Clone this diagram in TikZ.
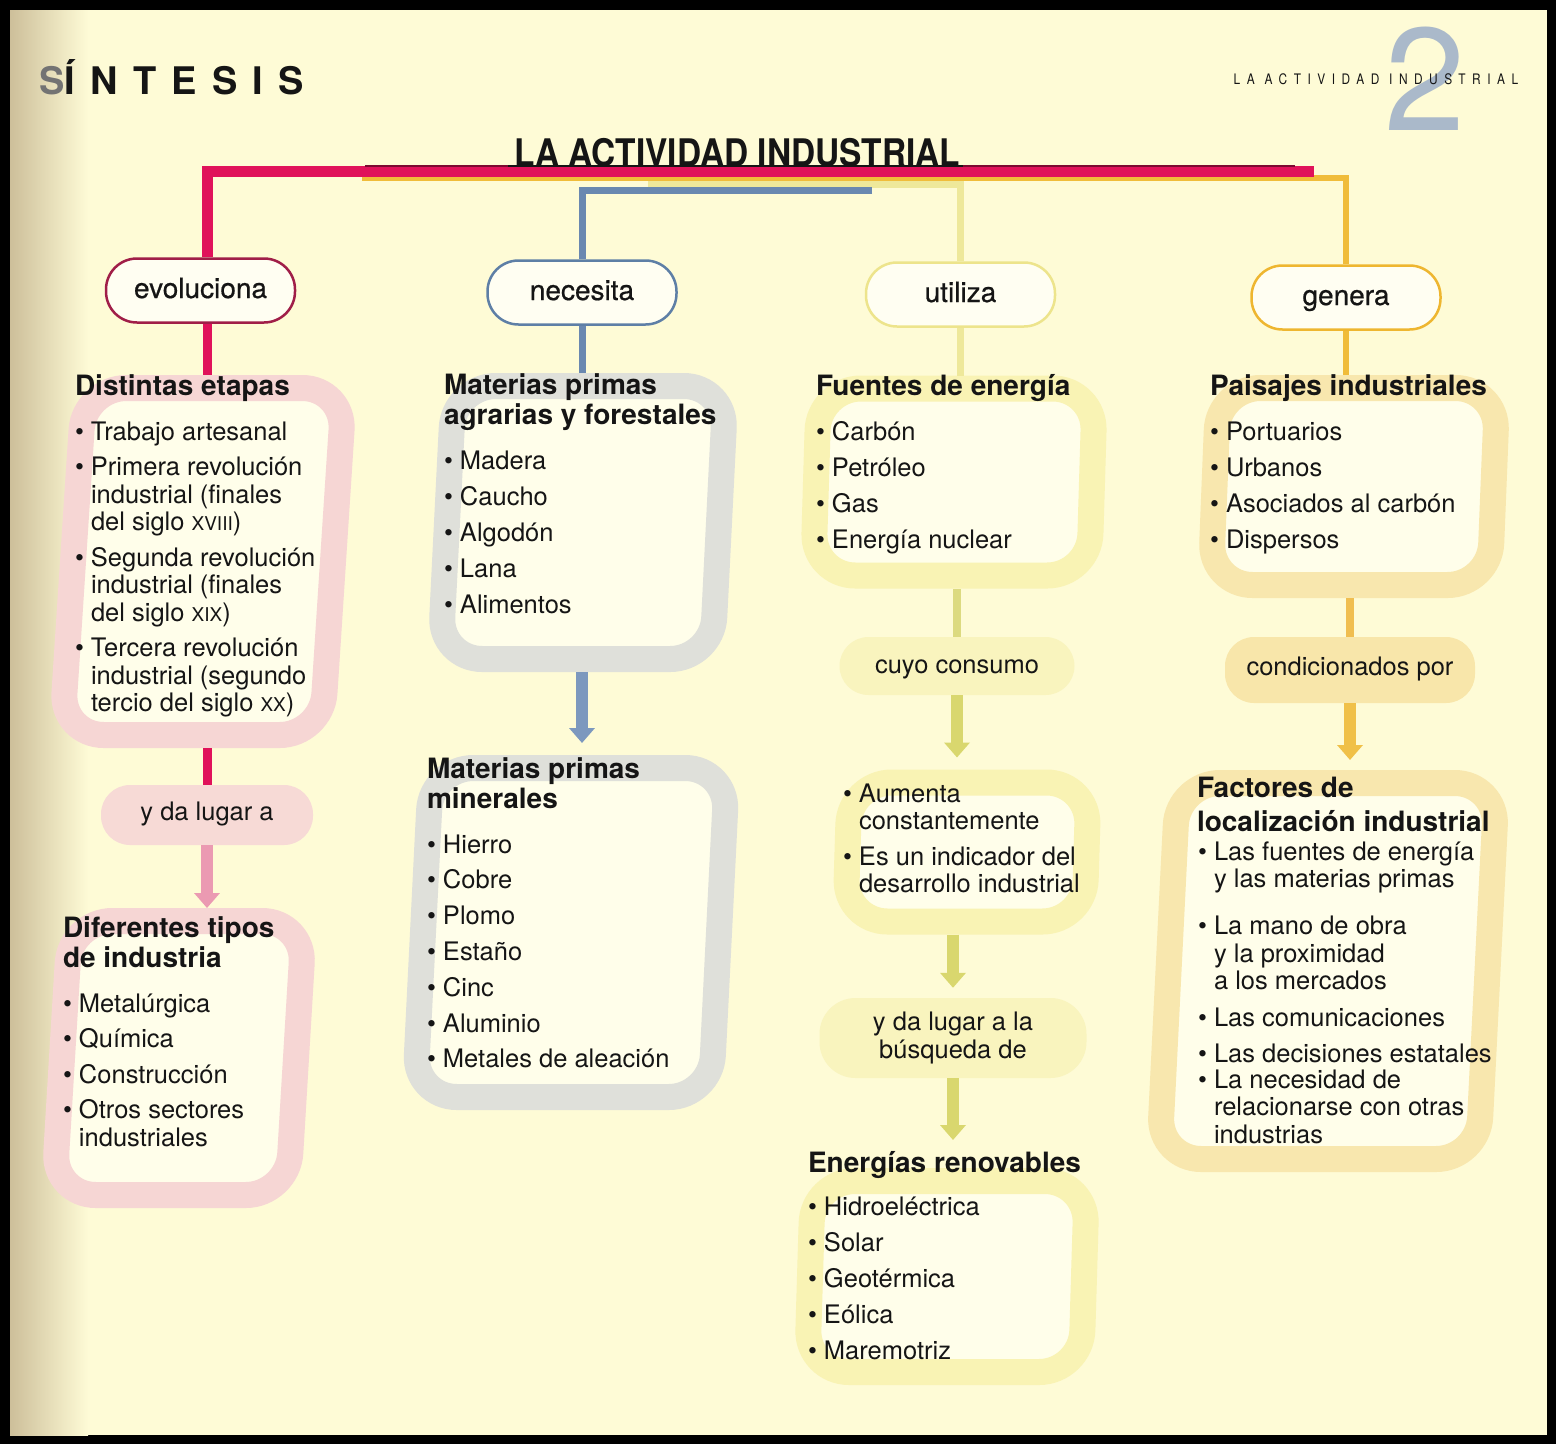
\documentclass[tikz,border=0pt]{standalone}
\usepackage{fontspec}
\setmainfont{TeX Gyre Heros}
\newfontfamily\condfont[FakeStretch=0.88]{TeX Gyre Heros}
\newfontfamily\smallheadfont[FakeStretch=0.82,LetterSpace=45]{TeX Gyre Heros}
\newfontfamily\sintfont[LetterSpace=40]{TeX Gyre Heros}
\newfontfamily\ovalfam[FakeBold=0.6]{TeX Gyre Heros}
\usetikzlibrary{arrows.meta,calc}

\definecolor{bg}{HTML}{FEFBD6}
\definecolor{binding}{HTML}{CDBF9A}
\definecolor{innerfill}{HTML}{FFFEEA}
\definecolor{ovalfill}{HTML}{FFFEF2}
\definecolor{ink}{HTML}{151515}
\definecolor{redline}{HTML}{E0125A}
\definecolor{crimson}{HTML}{A01E48}
\definecolor{blueline}{HTML}{6A88B0}
\definecolor{ovalblue}{HTML}{5E7FA6}
\definecolor{paleline}{HTML}{EEE89A}
\definecolor{ovalyellow}{HTML}{EDE48C}
\definecolor{goldline}{HTML}{F0BC3A}
\definecolor{ovalgold}{HTML}{EEB630}
\definecolor{ringpink}{HTML}{F6D6D4}
\definecolor{ringgray}{HTML}{DFE0DA}
\definecolor{ringyellow}{HTML}{F9F3B4}
\definecolor{ringgold}{HTML}{F8E7AE}
\definecolor{pillpink}{HTML}{F7DAD6}
\definecolor{pillyellow}{HTML}{F9F4BE}
\definecolor{pillgold}{HTML}{F8E6AA}
\definecolor{arrowpink}{HTML}{EB9AB2}
\definecolor{arrowblue}{HTML}{7C98BE}
\definecolor{arrowyellow}{HTML}{D9D76E}
\definecolor{arrowgold}{HTML}{F0C048}
\definecolor{lineyellow}{HTML}{DCDA80}
\definecolor{lineorange}{HTML}{F0BE50}
\definecolor{twocol}{HTML}{AAB9CA}

\newcommand\bodyfont{\fontsize{25.5}{27.5}\selectfont}
\newcommand\headfont{\fontsize{28}{30}\selectfont\bfseries}
\newcommand\ovalfont{\ovalfam\fontsize{28}{30}\selectfont}
\newcommand\bul{\makebox[16pt][l]{\textbullet}}
\newcommand\myind{\hspace*{16pt}}
\newcommand\romn[1]{{\fontsize{19}{20}\selectfont #1}}

\begin{document}
\begin{tikzpicture}[x=1pt,y=-1pt,
  txt/.style={anchor=base west, inner sep=0pt, outer sep=0pt, text=ink, font=\bodyfont},
  hd/.style={anchor=base west, inner sep=0pt, outer sep=0pt, text=ink, font=\headfont},
  oval/.style={draw=#1, line width=2.5pt, fill=ovalfill, rounded corners=31pt, minimum width=189pt, minimum height=64pt, inner sep=0pt, text=ink, font=\ovalfont, text height=20pt, text depth=5pt},
  ring/.style={draw=#1, line width=26pt, fill=innerfill, rounded corners=42pt, inner sep=0pt, transform shape},
  pill/.style={fill=#1, rounded corners=29pt, inner sep=0pt, text=ink, font=\bodyfont, align=center},
  arr/.style={draw=#1, line width=12pt, -{Triangle[width=25pt,length=15pt]}},
]
\useasboundingbox (0,0) rectangle (1556,1444);
\fill[black] (0,0) rectangle (1556,1444);
\fill[bg] (10,10) rectangle (1547,1435);
\shade[left color=binding, right color=bg] (10,10) rectangle (88,1435);

% header
\node[anchor=base west, text=ink, font={\sintfont\bfseries\fontsize{38}{40}\selectfont}] (sint) at (36,94) {{\color{black!55}S}ÍNTESIS};
\node[anchor=base west, text=twocol, font={\fontsize{146}{150}\selectfont}] (two) at (1381,130) {2};
\node[anchor=base west, text=ink, font={\smallheadfont\fontsize{14.5}{16}\selectfont}] (hdr) at (1230,84) {LA ACTIVIDAD INDUSTRIAL};

% rings
\node[ring=ringpink, xslant=0.065, minimum width=260pt, minimum height=347pt] (b1) at (203,561.5) {};
\node[ring=ringgray, xslant=0.05, minimum width=272pt, minimum height=273pt] (b2) at (583,522.5) {};
\node[ring=ringgray, xslant=0.05, minimum width=296pt, minimum height=329pt] (b3) at (571,932.5) {};
\node[ring=ringyellow, xslant=0.03, minimum width=276pt, minimum height=187pt] (b4) at (954,482) {};
\node[ring=ringyellow, xslant=0.03, minimum width=239pt, minimum height=139pt] (b5) at (967,852) {};
\node[ring=ringyellow, xslant=0.03, minimum width=274pt, minimum height=191pt] (b6) at (947,1276.5) {};
\node[ring=ringgold, xslant=0.04, minimum width=279pt, minimum height=197pt] (b7) at (1354,486.5) {};
\node[ring=ringgold, xslant=0.05, minimum width=319pt, minimum height=376pt] (b8) at (1328,971) {};
\node[ring=ringpink, xslant=0.06, minimum width=234pt, minimum height=274pt] (b9) at (179,1058) {};

% pills
\node[pill=pillpink, minimum width=212pt, minimum height=60pt, text height=16pt, text depth=6pt] (p1) at (207,815) {y da lugar a};
\node[pill=pillyellow, minimum width=235pt, minimum height=58pt, text height=18pt, text depth=4pt] (p2) at (957,666) {cuyo consumo};
\node[pill=pillyellow, minimum width=267pt, minimum height=80pt, rounded corners=36pt] (p3) at (953,1038) {y da lugar a la\\búsqueda de};
\node[pill=pillgold, minimum width=250pt, minimum height=66pt, text height=16pt, text depth=6pt] (p4) at (1350,670) {condicionados por};

% ovals
\node[oval=crimson] (evo) at (200.5,290.5) {evoluciona};
\node[oval=ovalblue] (nec) at (582,292.5) {necesita};
\node[oval=ovalyellow] (uti) at (960.5,294.5) {utiliza};
\node[oval=ovalgold] (gen) at (1346,297.5) {genera};

% header connectors
\coordinate (ylS) at (648,184);
\coordinate (gS) at (362,178);
\coordinate (bE) at (872,190.5);
\coordinate (rE) at (1314,171.5);
\coordinate (ulS) at (365,166);
\coordinate (ulE) at (1295,166);
\coordinate (utS) at (508,166);
\coordinate (utE) at (963,166);
\draw[line width=7pt, paleline] (ylS) -| (uti.north);
\draw[line width=6pt, goldline] (gS) -| (gen.north);
\draw[line width=7pt, blueline] (bE) -| (nec.north);
\draw[line width=11pt, redline] (rE) -| ([xshift=6.5pt]evo.north);
\draw[line width=1.2pt, redline!55!black] (ulS) -- (ulE);
\draw[line width=2pt, ink] (utS) -- (utE);
\node[anchor=base west, text=ink, font={\condfont\bfseries\fontsize{38}{40}\selectfont}] (title) at (511,166) {LA ACTIVIDAD INDUSTRIAL};

% lower connectors
\draw[line width=9pt, redline] ([xshift=6.5pt]evo.south) -- ([xshift=6.5pt]evo.south |- b1.north);
\draw[line width=9pt, redline] (p1.north) -- (p1.north |- b1.south);
\draw[arr=arrowpink] (p1.south) -- (p1.south |- b9.north);
\draw[line width=7pt, blueline] (nec.south) -- (nec.south |- b2.north);
\draw[arr=arrowblue, shorten >=12pt] (nec.south |- b2.south) -- (nec.south |- b3.north);
\draw[line width=7pt, paleline] (uti.south) -- (uti.south |- b4.north);
\draw[line width=8pt, lineyellow] (p2.north) -- (p2.north |- b4.south);
\draw[arr=arrowyellow, shorten >=12pt] (p2.south) -- (p2.south |- b5.north);
\draw[arr=arrowyellow, shorten >=10pt] (p3.north |- b5.south) -- (p3.north);
\draw[arr=arrowyellow, shorten >=28pt] (p3.south) -- (p3.south |- b6.north);
\draw[line width=6pt, goldline] (gen.south) -- (gen.south |- b7.north);
\draw[line width=8pt, lineorange] (p4.north) -- (p4.north |- b7.south);
\draw[arr=arrowgold, shorten >=10pt] (p4.south) -- (p4.south |- b8.north);

% box texts
\node[hd] (h1) at (75,395) {Distintas etapas};
\node[txt] (l1) at (75,440) {\begin{tabular}[t]{@{}l@{}}
\bul Trabajo artesanal\\[8pt]
\bul Primera revolución\\
\myind industrial (finales\\
\myind del siglo \romn{XVIII})\\[8pt]
\bul Segunda revolución\\
\myind industrial (finales\\
\myind del siglo \romn{XIX})\\[8pt]
\bul Tercera revolución\\
\myind industrial (segundo\\
\myind tercio del siglo \romn{XX})
\end{tabular}};

\node[hd] (h9) at (63,937) {\begin{tabular}[t]{@{}l@{}}Diferentes tipos\\de industria\end{tabular}};
\node[txt] (l9) at (63,1012) {\begin{tabular}[t]{@{}l@{}}
\bul Metalúrgica\\[8pt]
\bul Química\\[8pt]
\bul Construcción\\[8pt]
\bul Otros sectores\\
\myind industriales
\end{tabular}};

\node[hd] (h2) at (444,394) {\begin{tabular}[t]{@{}l@{}}Materias primas\\agrarias y forestales\end{tabular}};
\node[txt] (l2) at (444,469) {\begin{tabular}[t]{@{}l@{}}
\bul Madera\\[8.5pt]
\bul Caucho\\[8.5pt]
\bul Algodón\\[8.5pt]
\bul Lana\\[8.5pt]
\bul Alimentos
\end{tabular}};

\node[hd] (h3) at (427,778) {\begin{tabular}[t]{@{}l@{}}Materias primas\\minerales\end{tabular}};
\node[txt] (l3) at (427,853) {\begin{tabular}[t]{@{}l@{}}
\bul Hierro\\[8.3pt]
\bul Cobre\\[8.3pt]
\bul Plomo\\[8.3pt]
\bul Estaño\\[8.3pt]
\bul Cinc\\[8.3pt]
\bul Aluminio\\[8.3pt]
\bul Metales de aleación
\end{tabular}};

\node[hd] (h4) at (816,395) {Fuentes de energía};
\node[txt] (l4) at (816,440) {\begin{tabular}[t]{@{}l@{}}
\bul Carbón\\[8.5pt]
\bul Petróleo\\[8.5pt]
\bul Gas\\[8.5pt]
\bul Energía nuclear
\end{tabular}};

\node[txt] (l5) at (843,802) {\begin{tabular}[t]{@{}l@{}}
\bul Aumenta\\
\myind constantemente\\[8pt]
\bul Es un indicador del\\
\myind desarrollo industrial
\end{tabular}};

\node[hd] (h6) at (808,1172) {Energías renovables};
\node[txt] (l6) at (808,1215) {\begin{tabular}[t]{@{}l@{}}
\bul Hidroeléctrica\\[8.5pt]
\bul Solar\\[8.5pt]
\bul Geotérmica\\[8.5pt]
\bul Eólica\\[8.5pt]
\bul Maremotriz
\end{tabular}};

\node[hd] (h7) at (1210,395) {Paisajes industriales};
\node[txt] (l7) at (1210,440) {\begin{tabular}[t]{@{}l@{}}
\bul Portuarios\\[8.5pt]
\bul Urbanos\\[8.5pt]
\bul Asociados al carbón\\[8.5pt]
\bul Dispersos
\end{tabular}};

\node[hd] (h8) at (1197,797) {\begin{tabular}[t]{@{}l@{}}Factores de\\[4pt]localización industrial\end{tabular}};
\node[txt] (l8) at (1198,860) {\begin{tabular}[t]{@{}l@{}}
\bul Las fuentes de energía\\
\myind y las materias primas\\[19.5pt]
\bul La mano de obra\\
\myind y la proximidad\\
\myind a los mercados\\[9.5pt]
\bul Las comunicaciones\\[8pt]
\bul Las decisiones estatales\\[-1.5pt]
\bul La necesidad de\\
\myind relacionarse con otras\\
\myind industrias
\end{tabular}};
\end{tikzpicture}
\end{document}
